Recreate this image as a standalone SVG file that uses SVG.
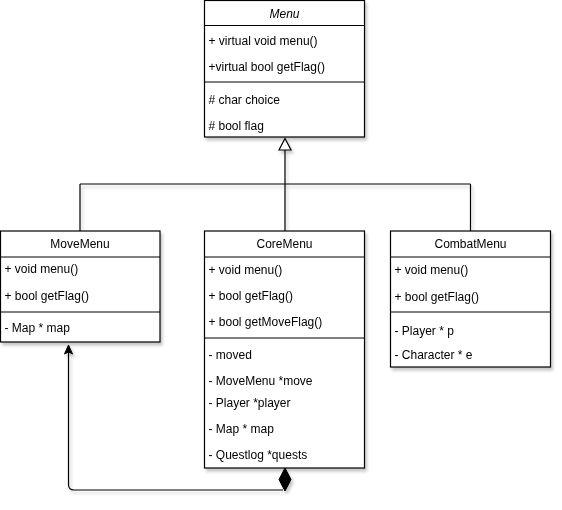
<svg xmlns="http://www.w3.org/2000/svg" width="562" height="510" viewBox="0 0 562 510">
<defs>
<filter id="sh" x="-10%" y="-10%" width="130%" height="130%">
<feDropShadow dx="2" dy="3" stdDeviation="1.5" flood-color="#000" flood-opacity="0.22"/>
</filter>
</defs>
<style>
.box{fill:#fff;stroke:#000;stroke-width:1.2}
.ln{stroke:#000;stroke-width:1.2;fill:none}
text{font-family:"Liberation Sans",Arial,Helvetica,sans-serif;font-size:12px;fill:#000}
.c{text-anchor:middle}
</style>
<rect width="562" height="510" fill="#fff"/>
<g id="connectors" filter="url(#sh)">
<path class="ln" d="M285 150 V184 M80 184 H470.5 M80 184 V231 M285 184 V231 M470.5 184 V231"/>
<polygon points="285,138.5 291,150 279,150" fill="#fff" stroke="#000" stroke-width="1.2"/>
<path class="ln" d="M283 490 H74 Q68.5 490 68.5 484.5 V352"/>
<polygon points="68.5,345 72.5,354 68.5,352 64.5,354" fill="#000" stroke="#000" stroke-width="1"/>
<polygon points="285,468 291,479.5 285,491 279,479.5" fill="#000" stroke="#000" stroke-width="1"/>
</g>
<g id="Menu" filter="url(#sh)">
<rect class="box" x="204.5" y="0.5" width="160" height="136.5"/>
<path class="ln" d="M204.5 25.5 H364.5 M204.5 82 H364.5"/>
<text class="c" x="284.5" y="18" font-style="italic">Menu</text>
<text x="208.5" y="45">+ virtual void menu()</text>
<text x="208.5" y="71">+virtual bool getFlag()</text>
<text x="208.5" y="104"># char choice</text>
<text x="208.5" y="130"># bool flag</text>
</g>
<g id="MoveMenu" filter="url(#sh)">
<rect class="box" x="0.5" y="231" width="159.5" height="111"/>
<path class="ln" d="M0.5 257 H160 M0.5 312 H160"/>
<text class="c" x="80" y="248">MoveMenu</text>
<text x="4.5" y="273">+ void menu()</text>
<text x="4.5" y="300">+ bool getFlag()</text>
<text x="4.5" y="332">- Map * map</text>
</g>
<g id="CoreMenu" filter="url(#sh)">
<rect class="box" x="204.5" y="231" width="160" height="237"/>
<path class="ln" d="M204.5 257 H364.5 M204.5 338 H364.5"/>
<text class="c" x="284.5" y="248">CoreMenu</text>
<text x="208.5" y="274">+ void menu()</text>
<text x="208.5" y="300">+ bool getFlag()</text>
<text x="208.5" y="326">+ bool getMoveFlag()</text>
<text x="208.5" y="359">- moved</text>
<text x="208.5" y="385">- MoveMenu *move</text>
<text x="208.5" y="407">- Player *player</text>
<text x="208.5" y="433">- Map * map</text>
<text x="208.5" y="459">- Questlog *quests</text>
</g>
<g id="CombatMenu" filter="url(#sh)">
<rect class="box" x="390.5" y="231" width="160" height="136"/>
<path class="ln" d="M390.5 257 H550.5 M390.5 312 H550.5"/>
<text class="c" x="470.5" y="248">CombatMenu</text>
<text x="394.5" y="274">+ void menu()</text>
<text x="394.5" y="301">+ bool getFlag()</text>
<text x="394.5" y="335">- Player * p</text>
<text x="394.5" y="359">- Character * e</text>
</g>
</svg>
